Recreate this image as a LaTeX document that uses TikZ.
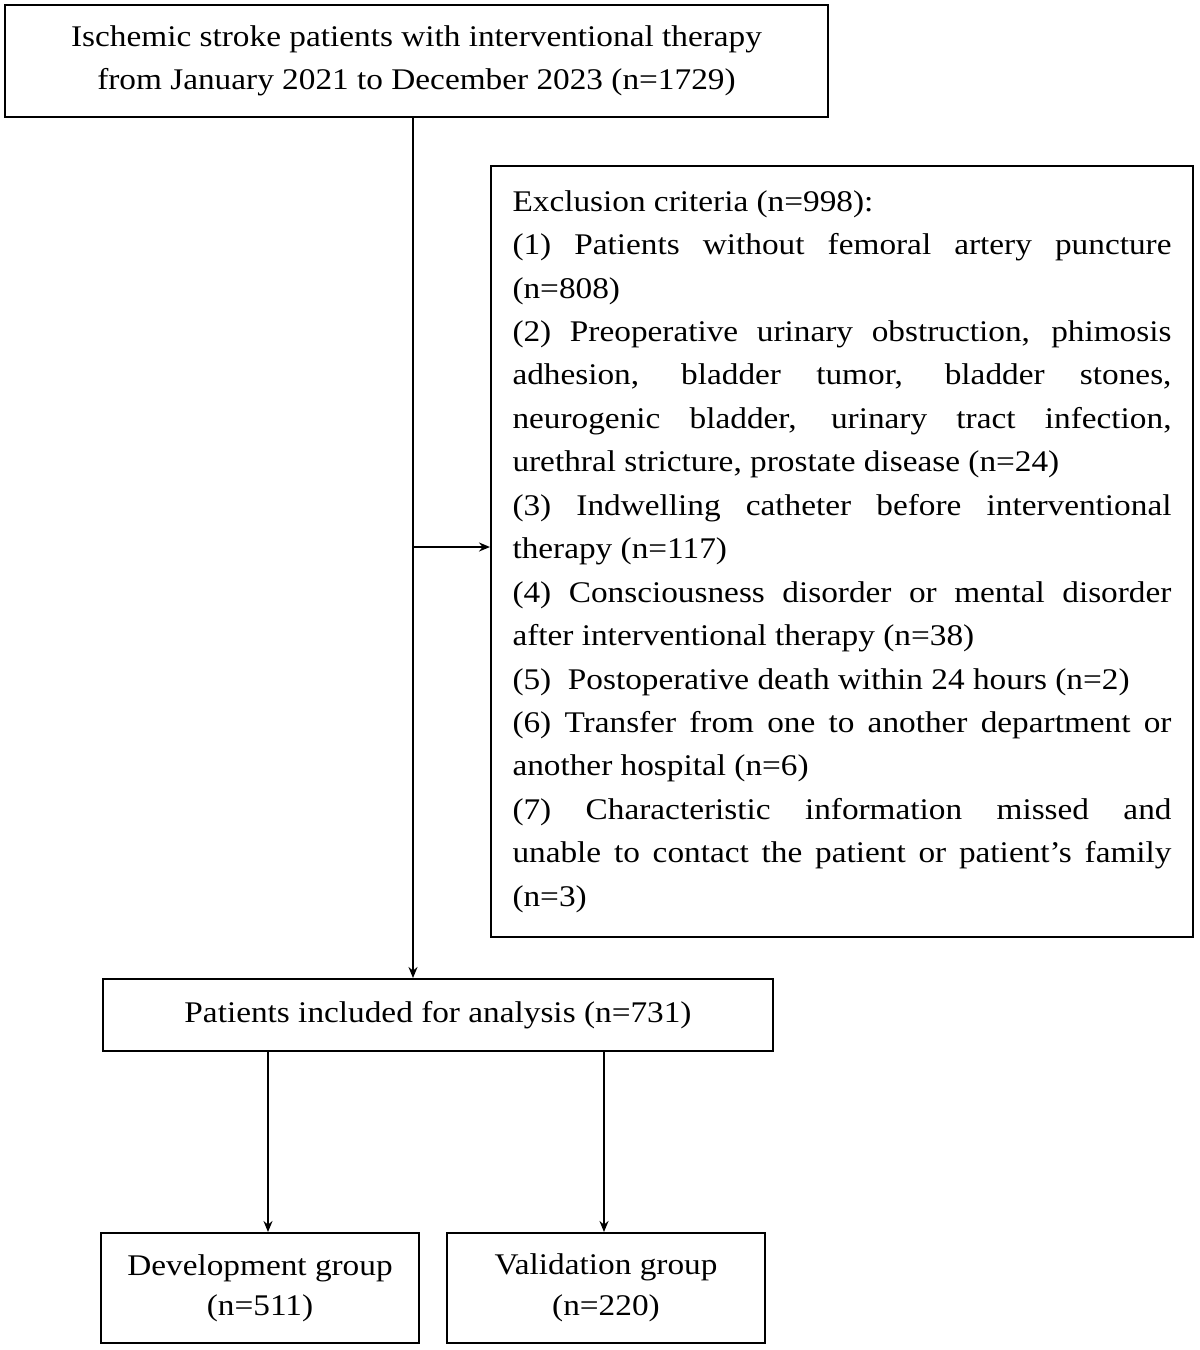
\documentclass[tikz,border=0pt]{standalone}
\usepackage{fontspec}
\setmainfont{Liberation Serif}[FakeStretch=1.11]
\usetikzlibrary{arrows.meta,calc}
\setlength\parindent{0pt}
\begin{document}
\begin{tikzpicture}[x=1pt,y=-1pt,
  box/.style={draw,line width=2pt,inner sep=0pt,align=center,font=\fontsize{30}{43}\selectfont},
  arr/.style={line width=2pt,-{Stealth[length=11pt,width=9pt]}}]
\useasboundingbox (0,0) rectangle (1200,1350);
\node[box,minimum width=823,minimum height=112] (top) at (416.5,61)
  {Ischemic stroke patients with interventional therapy\\from January 2021 to December 2023 (n=1729)};
\node[box,minimum width=702,minimum height=771,text width=659,inner xsep=21.5,align=justify,
  font=\fontsize{30}{43.44}\selectfont] (excl) at (842,551.5)
  {\emergencystretch=2em\hyphenpenalty=10000
   Exclusion criteria (n=998):\par
   (1) Patients without femoral artery puncture\linebreak (n=808)\par
   (2) Preoperative urinary obstruction, phimosis\linebreak adhesion, bladder tumor, bladder stones,\linebreak neurogenic bladder, urinary tract infection,\linebreak urethral stricture, prostate disease (n=24)\par
   (3) Indwelling catheter before interventional\linebreak therapy (n=117)\par
   (4) Consciousness disorder or mental disorder\linebreak after interventional therapy (n=38)\par
   (5)\ \ Postoperative death within 24 hours (n=2)\par
   (6) Transfer from one to another department or\linebreak another hospital (n=6)\par
   (7) Characteristic information missed and\linebreak unable to contact the patient or patient’s family\linebreak (n=3)\par};
\node[box,minimum width=670,minimum height=72] (pat) at (438,1015)
  {Patients included for analysis (n=731)};
\node[box,minimum width=318,minimum height=110,font=\fontsize{30}{40}\selectfont] (dev) at (260,1288)
  {Development group\\(n=511)};
\node[box,minimum width=318,minimum height=110,font=\fontsize{30}{41}\selectfont] (val) at (606,1288)
  {Validation group\\(n=220)};
\coordinate (j) at (413,547);
\coordinate (l) at (268,0);
\coordinate (r) at (604,0);
\draw[arr] (top.south -| j) -- (pat.north -| j);
\draw[arr] (j) -- (excl.west |- j);
\draw[arr] (pat.south -| l) -- (dev.north -| l);
\draw[arr] (pat.south -| r) -- (val.north -| r);
\end{tikzpicture}
\end{document}
